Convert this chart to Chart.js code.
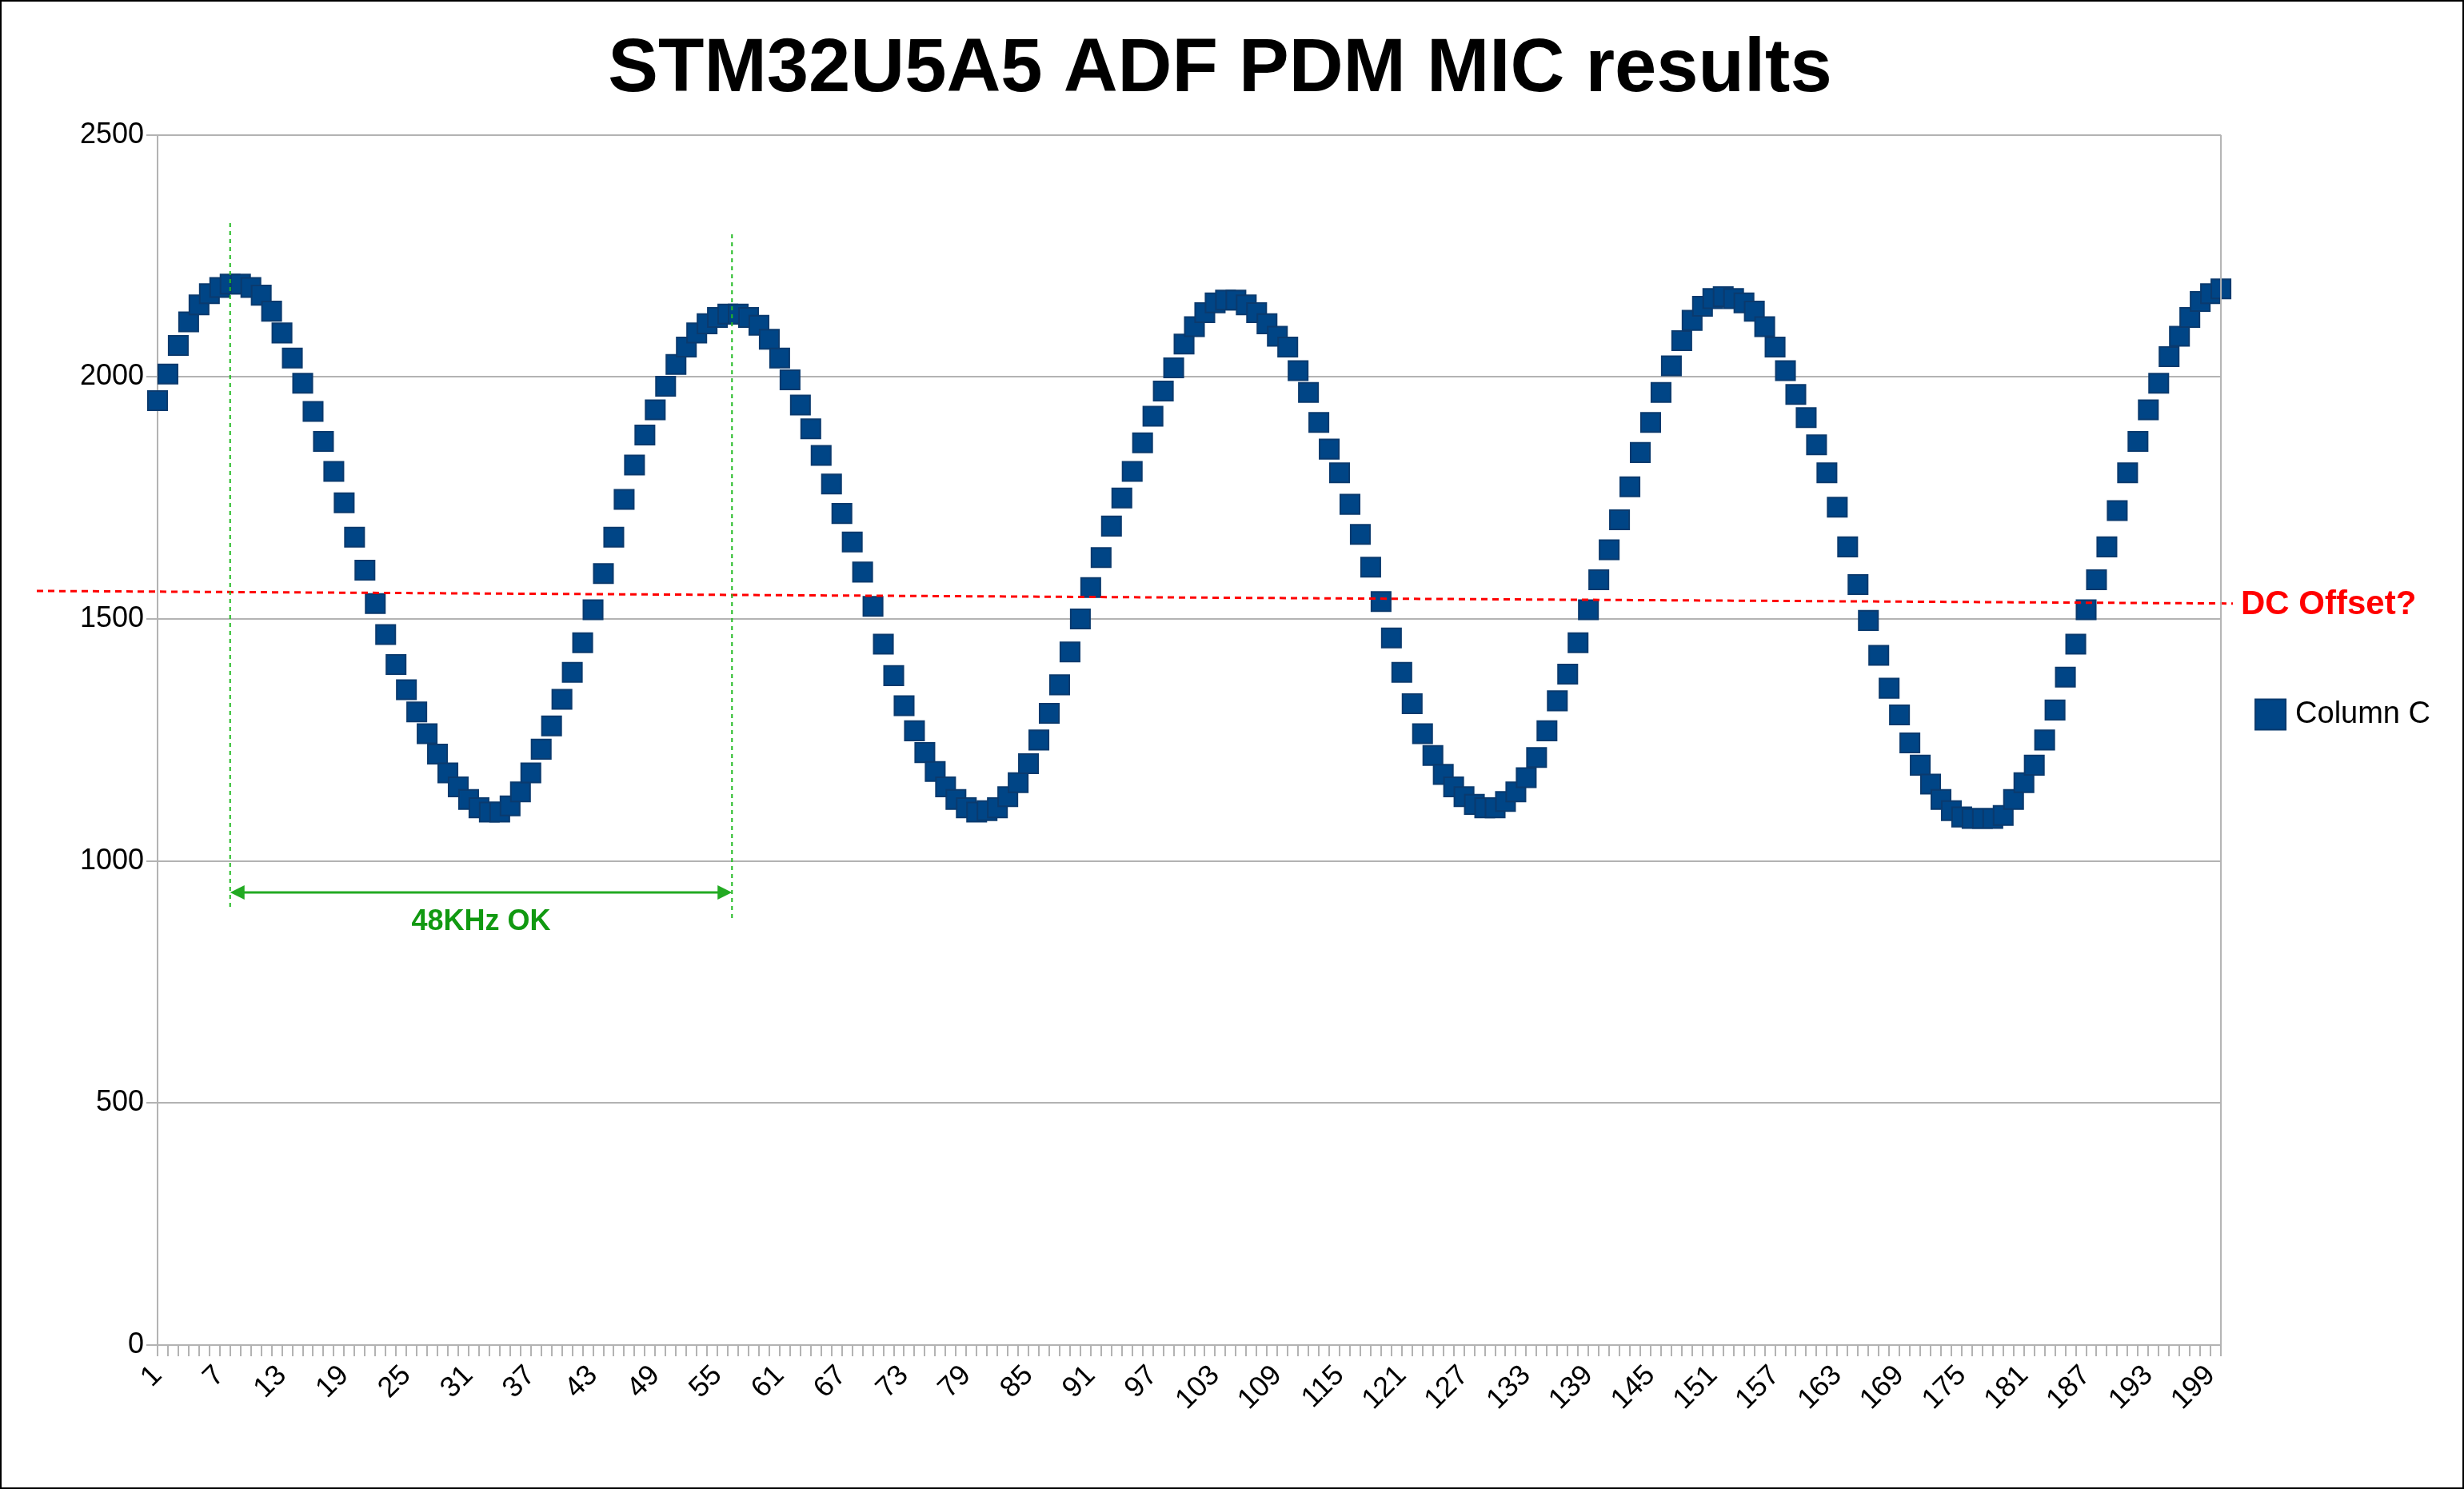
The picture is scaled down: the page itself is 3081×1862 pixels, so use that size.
<!DOCTYPE html>
<html>
<head>
<meta charset="utf-8">
<script src="https://cdn.jsdelivr.net/npm/chart.js@4.4.0/dist/chart.umd.min.js"></script>
<style>
html, body { margin: 0; padding: 0; background: #fff; }
#wrap { width: 3077px; height: 1858px; border: 2px solid #000; position: relative; }
</style>
</head>
<body>
<div id="wrap"><canvas id="myChart" width="3077" height="1858"></canvas></div>
<script>
const title = 'STM32U5A5 ADF PDM MIC results'
const seriesName = 'Column C'
const columnC = [
	1951, 2006, 2065, 2114, 2149, 2172, 2185, 2192, 2192, 2185,
	2169, 2136, 2091, 2039, 1987, 1929, 1867, 1805, 1740, 1669,
	1601, 1532, 1468, 1406, 1354, 1308, 1263, 1221, 1182, 1153,
	1127, 1110, 1101, 1101, 1114, 1143, 1182, 1231, 1279, 1334,
	1390, 1451, 1519, 1594, 1669, 1747, 1818, 1880, 1932, 1981,
	2026, 2062, 2091, 2110, 2123, 2130, 2130, 2123, 2107, 2078,
	2039, 1994, 1942, 1893, 1838, 1779, 1718, 1659, 1597, 1526,
	1448, 1383, 1321, 1269, 1224, 1185, 1153, 1127, 1110, 1101,
	1104, 1110, 1133, 1162, 1201, 1250, 1305, 1364, 1432, 1500,
	1565, 1627, 1692, 1750, 1805, 1864, 1919, 1971, 2019, 2068,
	2104, 2133, 2153, 2159, 2159, 2149, 2133, 2110, 2084, 2062,
	2013, 1968, 1906, 1851, 1802, 1737, 1675, 1607, 1536, 1461,
	1390, 1325, 1263, 1218, 1179, 1153, 1133, 1117, 1110, 1110,
	1123, 1143, 1172, 1214, 1269, 1331, 1386, 1451, 1519, 1581,
	1643, 1705, 1773, 1844, 1906, 1968, 2023, 2075, 2117, 2146,
	2162, 2166, 2162, 2153, 2136, 2104, 2062, 2013, 1964, 1916,
	1860, 1802, 1731, 1649, 1571, 1497, 1425, 1357, 1302, 1244,
	1198, 1159, 1127, 1104, 1091, 1088, 1088, 1088, 1094, 1127,
	1162, 1198, 1250, 1312, 1380, 1448, 1519, 1581, 1649, 1724,
	1802, 1867, 1932, 1987, 2042, 2084, 2123, 2156, 2172, 2182
]
const categories = columnC.map((v, i) => String(i + 1))
const dcOffset = [1558, 1532]       // red dashed line, left and right end values
const periodMarks = [8.0, 56.4]     // green marker positions (sample numbers)

const annotations = {
	id: 'annotations',
	afterDatasetsDraw(chart) {
		const ctx = chart.ctx
		const x = chart.scales.x
		const y = chart.scales.y
		const px = (v) => x.left + (v - 1) * (x.right - x.left) / (categories.length - 1)
		ctx.save()
		// DC offset line
		ctx.strokeStyle = '#ff0000'
		ctx.lineWidth = 3
		ctx.setLineDash([8, 6])
		ctx.beginPath()
		ctx.moveTo(44, y.getPixelForValue(dcOffset[0]))
		ctx.lineTo(2790, y.getPixelForValue(dcOffset[1]))
		ctx.stroke()
		ctx.setLineDash([])
		ctx.fillStyle = '#ff0000'
		ctx.font = 'bold 42px "Liberation Sans", Arial'
		ctx.textBaseline = 'middle'
		ctx.fillText('DC Offset?', 2800, y.getPixelForValue(dcOffset[1]) + 2)
		// period markers
		ctx.strokeStyle = '#22bb22'
		ctx.lineWidth = 2
		ctx.setLineDash([5, 5])
		const x1 = px(periodMarks[0]), x2 = px(periodMarks[1])
		ctx.beginPath()
		ctx.moveTo(x1, 277); ctx.lineTo(x1, 1136)
		ctx.moveTo(x2, 291); ctx.lineTo(x2, 1148)
		ctx.stroke()
		ctx.setLineDash([])
		const ay = 1114
		ctx.strokeStyle = '#22aa22'
		ctx.lineWidth = 3
		ctx.beginPath()
		ctx.moveTo(x1 + 10, ay); ctx.lineTo(x2 - 10, ay)
		ctx.stroke()
		ctx.fillStyle = '#22aa22'
		ctx.beginPath()
		ctx.moveTo(x1, ay); ctx.lineTo(x1 + 18, ay - 9); ctx.lineTo(x1 + 18, ay + 9); ctx.fill()
		ctx.beginPath()
		ctx.moveTo(x2, ay); ctx.lineTo(x2 - 18, ay - 9); ctx.lineTo(x2 - 18, ay + 9); ctx.fill()
		ctx.fillStyle = '#119911'
		ctx.font = 'bold 36px "Liberation Sans", Arial'
		ctx.textAlign = 'center'
		ctx.fillText('48KHz OK', (x1 + x2) / 2, 1151)
		// right border of plot area
		ctx.strokeStyle = '#b3b3b3'
		ctx.lineWidth = 2
		ctx.beginPath()
		ctx.moveTo(x.right, y.top); ctx.lineTo(x.right, y.bottom)
		ctx.stroke()
		ctx.restore()
	},
}

new Chart(document.getElementById('myChart'), {
	type: 'line',
	data: {
		labels: categories,
		datasets: [
			{
				label: seriesName,
				data: columnC,
				showLine: false,
				pointStyle: 'rect',
				pointRadius: 17,
				backgroundColor: '#004586',
				borderColor: '#0a3a6e',
				borderWidth: 2,
				clip: false,
			},
		],
	},
	options: {
		responsive: false,
		animation: false,
		devicePixelRatio: 1,
		layout: { padding: { left: 0, right: 30, top: 10, bottom: 85 } },
		scales: {
			x: {
				offset: false,
				grid: { drawOnChartArea: false, color: '#b3b3b3', tickLength: 14, lineWidth: 2 },
				border: { color: '#b3b3b3', width: 2 },
				ticks: {
					autoSkip: false,
					maxRotation: 45,
					minRotation: 45,
					color: '#000',
					font: { size: 36, family: '"Liberation Sans", Arial' },
					callback: (v, i) => (i % 6 === 0 ? categories[i] : ''),
				},
			},
			y: {
				min: 0,
				max: 2500,
				afterFit: (axis) => { axis.width = 195 },
				ticks: {
					stepSize: 500,
					color: '#000',
					font: { size: 36, family: '"Liberation Sans", Arial' },
					callback: (v) => String(v),
				},
				grid: { color: '#b3b3b3', lineWidth: 2, tickLength: 14 },
				border: { color: '#b3b3b3', width: 2 },
			},
		},
		plugins: {
			title: {
				display: true,
				text: title,
				color: '#000',
				font: { size: 94, weight: 'bold', family: '"Liberation Sans", Arial' },
				padding: { top: 20, bottom: 24 },
			},
			legend: {
				position: 'right',
				labels: {
					usePointStyle: true,
					pointStyle: 'rect',
					color: '#000',
					boxWidth: 24,
					font: { size: 38, family: '"Liberation Sans", Arial' },
					padding: 50,
				},
			},
			tooltip: { enabled: false },
		},
	},
	plugins: [annotations],
})
</script>
</body>
</html>
